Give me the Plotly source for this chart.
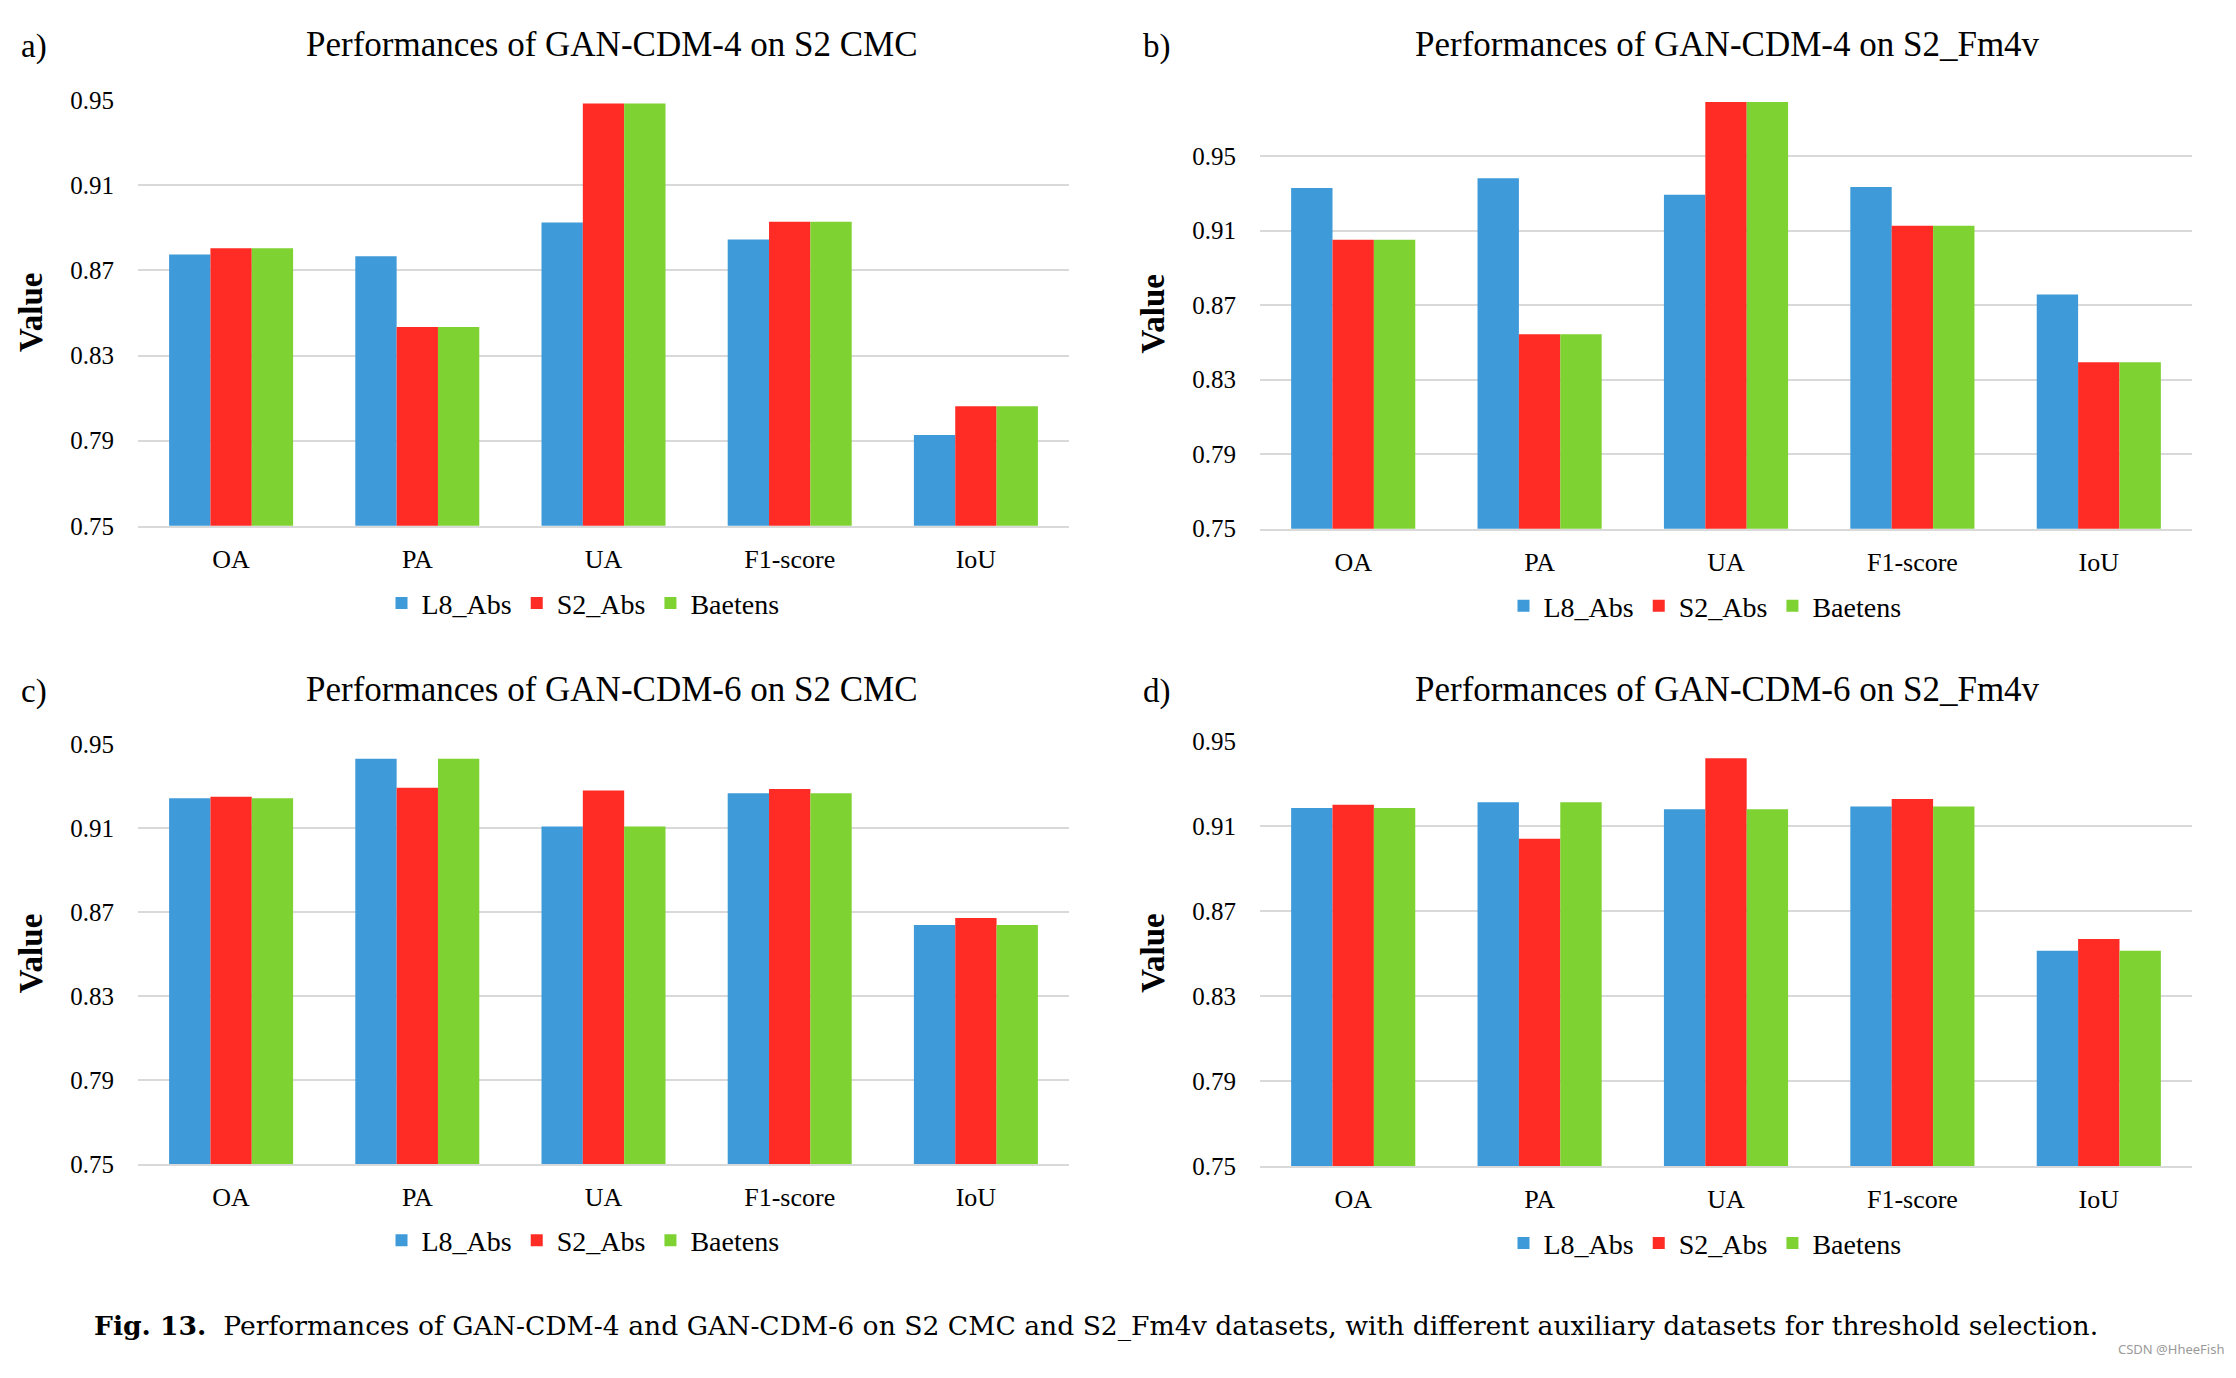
import plotly.graph_objects as go

categories = ["OA", "PA", "UA", "F1-score", "IoU"]
series_names = ["L8_Abs", "S2_Abs", "Baetens"]
colors = ["#3E9AD8", "#FE2C25", "#7ED232"]

# values
a_l8 = [0.8775, 0.8767, 0.8925, 0.8846, 0.7927]
a_s2 = [0.8804, 0.8434, 0.9485, 0.8929, 0.8062]
a_bae = [0.8804, 0.8434, 0.9485, 0.8929, 0.8062]

b_l8 = [0.9329, 0.9381, 0.9293, 0.9335, 0.8757]
b_s2 = [0.9051, 0.8544, 0.9790, 0.9126, 0.8394]
b_bae = [0.9051, 0.8544, 0.9790, 0.9126, 0.8394]

c_l8 = [0.9243, 0.9432, 0.9108, 0.9267, 0.8639]
c_s2 = [0.9250, 0.9293, 0.9280, 0.9287, 0.8672]
c_bae = [0.9243, 0.9432, 0.9108, 0.9267, 0.8639]

d_l8 = [0.9187, 0.9213, 0.9180, 0.9194, 0.8514]
d_s2 = [0.9202, 0.9041, 0.9421, 0.9229, 0.8569]
d_bae = [0.9187, 0.9213, 0.9180, 0.9194, 0.8514]

y_ticks = [0.75, 0.79, 0.83, 0.87, 0.91, 0.95]

panels = [
    ("a)", "Performances of GAN-CDM-4 on S2 CMC", [a_l8, a_s2, a_bae], 0.95),
    ("b)", "Performances of GAN-CDM-4 on S2_Fm4v", [b_l8, b_s2, b_bae], 0.98),
    ("c)", "Performances of GAN-CDM-6 on S2 CMC", [c_l8, c_s2, c_bae], 0.95),
    ("d)", "Performances of GAN-CDM-6 on S2_Fm4v", [d_l8, d_s2, d_bae], 0.95),
]

W, H = 2236, 1378
SERIF = "Liberation Serif"

# pixel boxes of each plot area: left, right, top, bottom
boxes = [(138, 1069, 89, 523), (1260, 2192, 89, 526),
         (138, 1069, 746, 1174), (1260, 2192, 743, 1176)]
legend_pos = [(583, 602), (1705, 605), (583, 1252), (1705, 1255)]
title_pos = [(611, 32), (1727, 32), (611, 690), (1727, 690)]

fig = go.Figure()
layout = {}
annotations = []

for i, (tag, title, vals, ymax) in enumerate(panels):
    n = "" if i == 0 else str(i + 1)
    left, right, top, bottom = boxes[i]
    for name, v, col in zip(series_names, vals, colors):
        fig.add_trace(go.Bar(
            x=categories, y=v, name=name,
            marker=dict(color=col, line=dict(width=0)),
            xaxis="x" + n, yaxis="y" + n, legend="legend" + n,
        ))
    layout["xaxis" + n] = dict(
        domain=[left / W, right / W], anchor="y" + n,
        showgrid=False, showline=True, linecolor="#D9D9D9", linewidth=2,
        tickfont=dict(family=SERIF, size=26, color="black"),
        ticks="", ticklabelstandoff=9,
    )
    layout["yaxis" + n] = dict(
        domain=[1 - bottom / H, 1 - top / H], anchor="x" + n,
        range=[0.75, ymax], tickvals=y_ticks, ticktext=[f"{t:.2f}" for t in y_ticks],
        showgrid=True, gridcolor="#D9D9D9", gridwidth=2, zeroline=False,
        showline=False, ticks="", ticklabelstandoff=23,
        tickfont=dict(family=SERIF, size=25, color="black"),
    )
    lx, ly = legend_pos[i]
    layout["legend" + n] = dict(
        orientation="h", x=lx / W, y=1 - ly / H, xanchor="center", yanchor="middle",
        font=dict(family=SERIF, size=28, color="black"),
        itemwidth=30, tracegroupgap=0, bgcolor="rgba(0,0,0,0)",
    )
    tx, ty = title_pos[i]
    annotations.append(dict(
        text=title, x=tx / W, y=1 - ty / H,
        xref="paper", yref="paper", xanchor="center", yanchor="middle",
        showarrow=False, font=dict(family=SERIF, size=35, color="black"),
    ))
    annotations.append(dict(
        text=tag, x=(left - 119) / W, y=1 - (ty + 2) / H,
        xref="paper", yref="paper", xanchor="left", yanchor="middle",
        showarrow=False, font=dict(family=SERIF, size=33, color="black"),
    ))
    annotations.append(dict(
        text="<b>Value</b>", x=(left - 107) / W, y=1 - (top + bottom) / 2 / H,
        xref="paper", yref="paper", xanchor="center", yanchor="middle",
        textangle=-90, showarrow=False,
        font=dict(family=SERIF, size=33, color="black"),
    ))

annotations.append(dict(
    text="<b>Fig. 13.</b>  Performances of GAN-CDM-4 and GAN-CDM-6 on S2 CMC and S2_Fm4v "
         "datasets, with different auxiliary datasets for threshold selection.",
    x=92 / W, y=1 - 1339 / H, xref="paper", yref="paper",
    xanchor="left", yanchor="middle", showarrow=False,
    font=dict(family="DejaVu Serif", size=26.6, color="black"),
))
annotations.append(dict(
    text="CSDN @HheeFish", x=2226 / W, y=1 - 1363 / H, xref="paper", yref="paper",
    xanchor="right", yanchor="middle", showarrow=False,
    font=dict(family="Noto Sans", size=13, color="#9A9A9A"),
))

fig.update_layout(
    width=W, height=H,
    margin=dict(l=0, r=0, t=0, b=0),
    paper_bgcolor="white", plot_bgcolor="white",
    barmode="group", bargap=0.334, bargroupgap=0,
    annotations=annotations,
    **layout,
)

fig.write_html("out.html", config={"displayModeBar": False},
               post_script="document.body.style.margin='0';")
